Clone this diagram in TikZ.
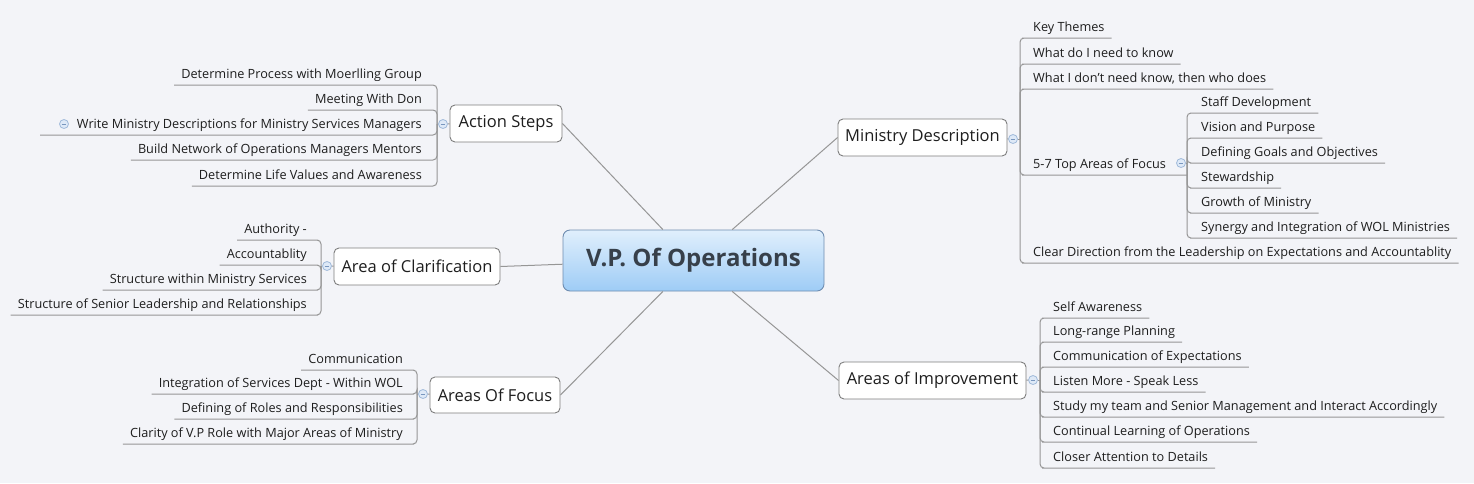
\documentclass[tikz,border=0pt]{standalone}
\usepackage{fontspec}
\setmainfont{Open Sans}
\usetikzlibrary{calc}
\definecolor{bg}{RGB}{243,244,248}
\definecolor{linec}{RGB}{150,150,150}
\definecolor{boxc}{RGB}{125,125,125}
\definecolor{childtext}{RGB}{30,30,30}
\definecolor{knobf}{RGB}{222,233,247}
\definecolor{knobd}{RGB}{160,186,218}
\definecolor{knobm}{RGB}{120,150,190}
\definecolor{vptop}{RGB}{224,239,252}
\definecolor{vpbot}{RGB}{158,204,246}
\definecolor{vpdraw}{RGB}{110,140,176}
\definecolor{vptext}{RGB}{55,64,74}
\tikzset{
  child/.style={font=\fontsize{12.7}{15}\selectfont, text=childtext, inner xsep=7pt, inner ysep=3.5pt, text height=9.5pt, text depth=3pt},
  lchild/.style={child, anchor=south east},
  rchild/.style={child, anchor=south west},
  conn/.style={draw=linec, line width=1pt, rounded corners=4pt},
  mainline/.style={draw=linec, line width=1pt},
  topic/.style={draw=boxc, fill=white, rounded corners=5pt, font=\fontsize{16.5}{20}\selectfont, text=childtext, inner sep=0pt, line width=0.9pt},
  knob/.style={circle, draw=knobd, fill=knobf, minimum size=9pt, inner sep=0pt, line width=0.8pt,
    path picture={\draw[knobm, line width=0.8pt] ([xshift=2.2pt]path picture bounding box.west) -- ([xshift=-2.2pt]path picture bounding box.east);}},
}
\begin{document}
\begin{tikzpicture}[x=1pt,y=-1pt]
\fill[bg] (0,0) rectangle (1474,483);
\useasboundingbox (0,0) rectangle (1474,483);

% central and main topics
\node[draw=vpdraw, top color=vptop, bottom color=vpbot, rounded corners=7pt, line width=0.9pt,
  minimum width=261pt, minimum height=61pt, inner sep=0pt,
  font=\fontsize{24}{28}\selectfont\bfseries, text=vptext] (vp) at (693.5,260.5) {V.P. Of Operations};
\node[topic, minimum width=112pt, minimum height=37pt] (as) at (506,123.5) {Action Steps};
\node[topic, minimum width=166pt, minimum height=37pt] (ac) at (417,266.5) {Area of Clarification};
\node[topic, minimum width=130pt, minimum height=36pt] (af) at (495,395) {Areas Of Focus};
\node[topic, minimum width=169pt, minimum height=37pt] (md) at (922.5,137.5) {Ministry Description};
\node[topic, minimum width=187pt, minimum height=37pt] (ai) at (932.5,380.5) {Areas of Improvement};

\draw[mainline] ($(vp.north west)!0.383!(vp.north east)$) -- (as.east);
\draw[mainline] ($(vp.north west)!0.56!(vp.south west)$) -- (ac.east);
\draw[mainline] ($(vp.south west)!0.383!(vp.south east)$) -- (af.east);
\draw[mainline] ($(vp.north west)!0.648!(vp.north east)$) -- (md.west);
\draw[mainline] ($(vp.south west)!0.648!(vp.south east)$) -- (ai.west);

% ---------- Action Steps ----------
\coordinate (asB) at (437,124);
\node[knob] (asK) at (443,124) {};
\draw[mainline] (asB) -- (asK);
\draw[mainline] (asK) -- (as);
\node[lchild] (as1) at (429,85) {Determine Process with Moerlling Group};
\node[lchild] (as2) at (429,110) {Meeting With Don};
\node[lchild] (as3) at (429,135) {Write Ministry Descriptions for Ministry Services Managers};
\node[lchild] (as4) at (429,160) {Build Network of Operations Managers Mentors};
\node[lchild] (as5) at (429,186) {Determine Life Values and Awareness};
\coordinate (as3L) at (40,135);
\node[knob] (wmK) at (64,124) {};
\draw[conn] (as1.south west) -- (as1.south east) -| (asB);
\draw[conn] (as2.south west) -- (as2.south east) -| (asB);
\draw[conn] (as3L) -- (as3.south east) -| (asB);
\draw[conn] (as4.south west) -- (as4.south east) -| (asB);
\draw[conn] (as5.south west) -- (as5.south east) -| (asB);

% ---------- Area of Clarification ----------
\coordinate (acB) at (321,266);
\node[knob] (acK) at (327,266) {};
\draw[mainline] (acB) -- (acK);
\draw[mainline] (acK) -- (ac);
\node[lchild] (ac1) at (314,240) {Authority -};
\node[lchild] (ac2) at (314,265) {Accountablity};
\node[lchild] (ac3) at (314,290) {Structure within Ministry Services};
\node[lchild] (ac4) at (314,315) {Structure of Senior Leadership and Relationships};
\foreach \n in {ac1,ac2,ac3,ac4}
  \draw[conn] (\n.south west) -- (\n.south east) -| (acB);

% ---------- Areas Of Focus ----------
\coordinate (afB) at (417,394);
\node[knob] (afK) at (423,394) {};
\draw[mainline] (afB) -- (afK);
\draw[mainline] (afK) -- (af);
\node[lchild] (af1) at (410,370) {Communication};
\node[lchild] (af2) at (410,394) {Integration of Services Dept - Within WOL};
\node[lchild] (af3) at (410,419) {Defining of Roles and Responsibilities};
\node[lchild] (af4) at (410,444) {Clarity of V.P Role with Major Areas of Ministry};
\foreach \n in {af1,af2,af3,af4}
  \draw[conn] (\n.south west) -- (\n.south east) -| (afB);

% ---------- Ministry Description ----------
\coordinate (mdB) at (1020,139);
\node[knob] (mdK) at (1013,139) {};
\draw[mainline] (md) -- (mdK);
\draw[mainline] (mdK) -- (mdB);
\node[rchild] (md1) at (1026,38) {Key Themes};
\node[rchild] (md2) at (1026,64) {What do I need to know};
\node[rchild] (md3) at (1026,89) {What I don't need know, then who does};
\node[rchild] (md4) at (1026,175) {5-7 Top Areas of Focus};
\node[rchild] (md5) at (1026,263) {Clear Direction from the Leadership on Expectations and Accountablity};
\coordinate (tsE) at (1187,175);
\draw[conn] (md1.south east) -- (md1.south west) -| (mdB);
\draw[conn] (md2.south east) -- (md2.south west) -| (mdB);
\draw[conn] (md3.south east) -- (md3.south west) -| (mdB);
\draw[conn] (tsE) -- (md4.south west) -| (mdB);
\draw[conn] (md5.south east) -- (md5.south west) -| (mdB);

% ---------- 5-7 Top Areas of Focus ----------
\coordinate (tsB) at (1187,163);
\node[knob] (tsK) at (1181,163) {};
\draw[mainline] (tsK) -- (tsB);
\node[rchild] (ts1) at (1194,113) {Staff Development};
\node[rchild] (ts2) at (1194,138) {Vision and Purpose};
\node[rchild] (ts3) at (1194,163) {Defining Goals and Objectives};
\node[rchild] (ts4) at (1194,188) {Stewardship};
\node[rchild] (ts5) at (1194,213) {Growth of Ministry};
\node[rchild] (ts6) at (1194,238) {Synergy and Integration of WOL Ministries};
\foreach \n in {ts1,ts2,ts3,ts4,ts5,ts6}
  \draw[conn] (\n.south east) -- (\n.south west) -| (tsB);

% ---------- Areas of Improvement ----------
\coordinate (aiB) at (1040,380);
\node[knob] (aiK) at (1033,380) {};
\draw[mainline] (ai) -- (aiK);
\draw[mainline] (aiK) -- (aiB);
\node[rchild] (ai1) at (1046,318) {Self Awareness};
\node[rchild] (ai2) at (1046,342) {Long-range Planning};
\node[rchild] (ai3) at (1046,367) {Communication of Expectations};
\node[rchild] (ai4) at (1046,392) {Listen More - Speak Less};
\node[rchild] (ai5) at (1046,417) {Study my team and Senior Management and Interact Accordingly};
\node[rchild] (ai6) at (1046,442) {Continual Learning of Operations};
\node[rchild] (ai7) at (1046,468) {Closer Attention to Details};
\foreach \n in {ai1,ai2,ai3,ai4,ai5,ai6,ai7}
  \draw[conn] (\n.south east) -- (\n.south west) -| (aiB);
\end{tikzpicture}
\end{document}
